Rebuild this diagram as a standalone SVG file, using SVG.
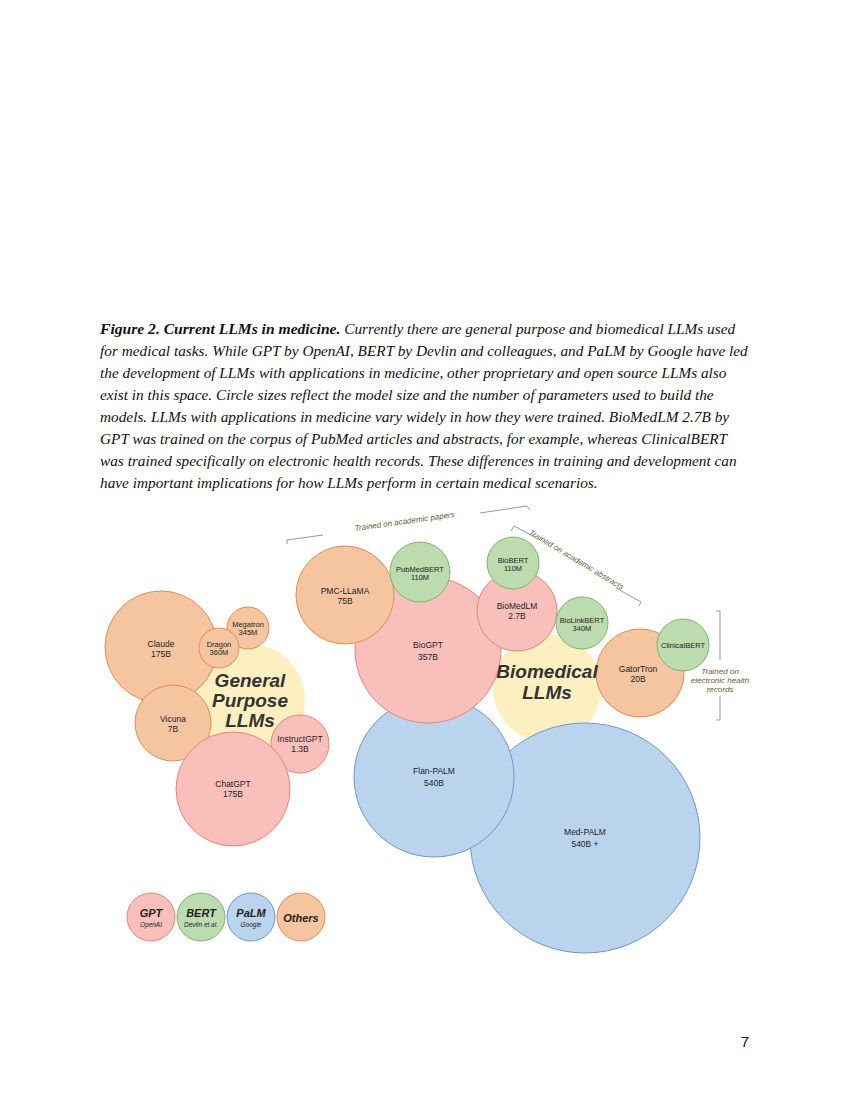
<svg xmlns="http://www.w3.org/2000/svg" width="850" height="1100" viewBox="0 0 850 1100">
<style>
.cap{font-family:"Liberation Serif",serif;font-size:15.3px;font-style:italic;fill:#111}
.n{font-family:"Liberation Sans",Arial,sans-serif;font-size:8.5px;fill:#222;text-anchor:middle}
.s{font-size:7.5px}
.lg{font-size:11px;font-weight:bold;font-style:italic}
.ls{font-size:6.5px;font-style:italic}
.big{font-family:"Liberation Sans",Arial,sans-serif;font-size:19px;font-weight:bold;font-style:italic;fill:#333;text-anchor:middle}
.lb{font-family:"Liberation Sans",Arial,sans-serif;font-size:8px;font-style:italic;fill:#6b5a3a;text-anchor:middle}
.gpt{fill:#f9c0bb;stroke:#e8827a;stroke-width:1}
.bert{fill:#bcdcb0;stroke:#7fb36a;stroke-width:1}
.palm{fill:#bad4ed;stroke:#6e96cc;stroke-width:1}
.oth{fill:#f5c5a0;stroke:#e08c55;stroke-width:1}
.y{fill:#fdf0c0;stroke:none}
.br{fill:none;stroke:#999;stroke-width:1}
</style>
<rect width="850" height="1100" fill="#fff"/>
<g id="caption">
<text class="cap" x="100" y="334"><tspan font-weight="bold" font-size="15.6px">Figure 2. Current LLMs in medicine.</tspan> Currently there are general purpose and biomedical LLMs used</text>
<text class="cap" x="100" y="356">for medical tasks. While GPT by OpenAI, BERT by Devlin and colleagues, and PaLM by Google have led</text>
<text class="cap" x="100" y="378">the development of LLMs with applications in medicine, other proprietary and open source LLMs also</text>
<text class="cap" x="100" y="400">exist in this space. Circle sizes reflect the model size and the number of parameters used to build the</text>
<text class="cap" x="100" y="422">models. LLMs with applications in medicine vary widely in how they were trained. BioMedLM 2.7B by</text>
<text class="cap" x="100" y="444">GPT was trained on the corpus of PubMed articles and abstracts, for example, whereas ClinicalBERT</text>
<text class="cap" x="100" y="466">was trained specifically on electronic health records. These differences in training and development can</text>
<text class="cap" x="100" y="488">have important implications for how LLMs perform in certain medical scenarios.</text>
</g>
<g id="general"><circle class="y" cx="249" cy="700" r="56"/></g>
<g id="biomedical"><circle class="y" cx="547" cy="688" r="54"/></g>
<g id="medpalm"><circle class="palm" cx="585" cy="838" r="115"/><text class="n" x="585" y="835">Med-PALM</text><text class="n" x="585" y="847">540B +</text></g>
<g id="flanpalm"><circle class="palm" cx="434" cy="777" r="80"/><text class="n" x="434" y="774">Flan-PALM</text><text class="n" x="434" y="786">540B</text></g>
<g id="biogpt"><circle class="gpt" cx="428" cy="650" r="73"/><text class="n" x="428" y="648">BioGPT</text><text class="n" x="428" y="660">357B</text></g>
<g id="pmcllama"><circle class="oth" cx="345" cy="595" r="49"/><text class="n" x="345" y="594">PMC-LLaMA</text><text class="n" x="345" y="604">75B</text></g>
<g id="pubmedbert"><circle class="bert" cx="420" cy="572" r="30"/><text class="n s" x="420" y="572">PubMedBERT</text><text class="n s" x="420" y="580">110M</text></g>
<g id="biomedlm"><circle class="gpt" cx="517" cy="611" r="40"/><text class="n" x="517" y="609">BioMedLM</text><text class="n" x="517" y="619">2.7B</text></g>
<g id="biobert"><circle class="bert" cx="513" cy="563" r="26"/><text class="n s" x="513" y="563">BioBERT</text><text class="n s" x="513" y="571">110M</text></g>
<g id="biolinkbert"><circle class="bert" cx="582" cy="623" r="26"/><text class="n s" x="582" y="623">BioLinkBERT</text><text class="n s" x="582" y="631">340M</text></g>
<g id="gatortron"><circle class="oth" cx="640" cy="673" r="44"/><text class="n" x="638" y="672">GatorTron</text><text class="n" x="638" y="682">20B</text></g>
<g id="clinicalbert"><circle class="bert" cx="683" cy="645" r="26"/><text class="n s" x="683" y="648">ClinicalBERT</text></g>
<g id="biomed-label"><text class="big" x="547" y="678">Biomedical</text><text class="big" x="547" y="699">LLMs</text></g>
<g id="claude"><circle class="oth" cx="161" cy="647" r="56"/><text class="n" x="161" y="647">Claude</text><text class="n" x="161" y="657">175B</text></g>
<g id="megatron"><circle class="oth" cx="248" cy="628" r="21"/><text class="n s" x="248" y="627">Megatron</text><text class="n s" x="248" y="635">345M</text></g>
<g id="dragon"><circle class="oth" cx="219" cy="648" r="20"/><text class="n s" x="219" y="647">Dragon</text><text class="n s" x="219" y="655">360M</text></g>
<g id="vicuna"><circle class="oth" cx="173" cy="723" r="38"/><text class="n" x="173" y="722">Vicuna</text><text class="n" x="173" y="732">7B</text></g>
<g id="instructgpt"><circle class="gpt" cx="300" cy="744" r="29"/><text class="n" x="300" y="742">InstructGPT</text><text class="n" x="300" y="752">1.3B</text></g>
<g id="chatgpt"><circle class="gpt" cx="233" cy="789" r="57"/><text class="n" x="233" y="787">ChatGPT</text><text class="n" x="233" y="797">175B</text></g>
<g id="general-label"><text class="big" x="250" y="687">General</text><text class="big" x="250" y="707">Purpose</text><text class="big" x="250" y="727">LLMs</text></g>
<g id="connectors">
<path class="br" d="M287,544 L287,540 L323,535 M480,513 L527,506 L530,510"/>
<text class="lb" x="405" y="524" transform="rotate(-8 405 524)">Trained on academic papers</text>
<path class="br" d="M511,531 L514,526 L535,537 M616,588 L641,602 L639,606"/>
<text class="lb" x="575" y="562" transform="rotate(31 575 562)">Trained on academic abstracts</text>
<path class="br" d="M716,611 L720,611 L720,660 M720,696 L720,720 L716,720"/>
<text class="lb" x="720" y="674">Trained on</text><text class="lb" x="720" y="683">electronic health</text><text class="lb" x="720" y="692">records</text>
</g>
<g id="legend">
<circle class="gpt" cx="151" cy="917" r="24"/><text class="n lg" x="151" y="917">GPT</text><text class="n ls" x="151" y="927">OpenAI</text>
<circle class="bert" cx="201" cy="917" r="24"/><text class="n lg" x="201" y="917">BERT</text><text class="n ls" x="201" y="927">Devlin et al.</text>
<circle class="palm" cx="251" cy="917" r="24"/><text class="n lg" x="251" y="917">PaLM</text><text class="n ls" x="251" y="927">Google</text>
<circle class="oth" cx="301" cy="917" r="24"/><text class="n lg" x="301" y="922">Others</text>
</g>
<text x="745" y="1047" font-family="Liberation Sans,Arial,sans-serif" font-size="15" fill="#111" text-anchor="middle">7</text>
</svg>
